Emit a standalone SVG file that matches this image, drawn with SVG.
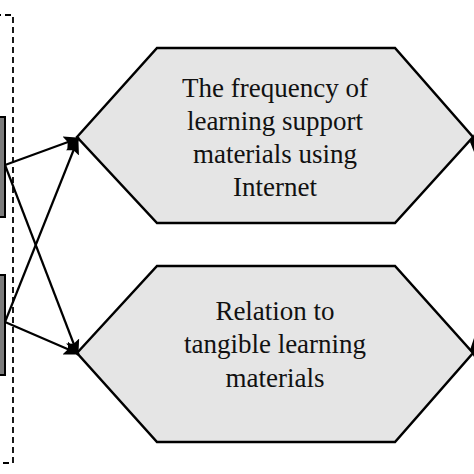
<svg xmlns="http://www.w3.org/2000/svg" width="474" height="474" viewBox="0 0 474 474">
<defs>
<style>
.hex{fill:#e5e5e5;stroke:#000;stroke-width:2.5;stroke-linejoin:miter}
.bar{fill:#7b7b7b;stroke:#000;stroke-width:2}
.lbl{font-family:"Liberation Serif","Times New Roman",serif;font-size:27px;fill:#111;text-anchor:middle}
.conn{stroke:#000;stroke-width:2.2;fill:none;marker-end:url(#ah)}
</style>
<marker id="ah" viewBox="0 0 16 14" refX="15" refY="7" markerWidth="16" markerHeight="14" markerUnits="userSpaceOnUse" orient="auto">
<path d="M0,0 L16,7 L0,14 L3,7 Z" fill="#000"/>
</marker>
</defs>
<rect width="474" height="474" fill="#fff"/>
<path d="M-5,15 H13 V463 H-5" fill="none" stroke="#000" stroke-width="1.8" stroke-dasharray="6,4"/>
<g id="bar1"><rect class="bar" x="-3" y="117" width="8" height="100"/></g>
<g id="bar2"><rect class="bar" x="-3" y="275" width="8" height="100"/></g>
<g id="node1">
<polygon class="hex" points="77,137 157,48 395,48 473,137 395,223 157,223"/>
<text class="lbl" x="275" y="97">The frequency of</text>
<text class="lbl" x="275" y="130">learning support</text>
<text class="lbl" x="275" y="163">materials using</text>
<text class="lbl" x="275" y="196">Internet</text>
</g>
<g id="node2">
<polygon class="hex" points="77,353 157,266 395,266 473,353 395,442 157,442"/>
<text class="lbl" x="275" y="320">Relation to</text>
<text class="lbl" x="275" y="353">tangible learning</text>
<text class="lbl" x="275" y="387">materials</text>
</g>
<g id="connectors">
<line class="conn" x1="5" y1="165" x2="79" y2="138"/>
<line class="conn" x1="5" y1="165" x2="78" y2="355"/>
<line class="conn" x1="5" y1="322" x2="78" y2="139"/>
<line class="conn" x1="5" y1="322" x2="79" y2="354"/>
<polygon points="470,142 474,134 474,152" fill="#000"/>
<polygon points="470,350 474,338 474,357" fill="#000"/>
</g>
</svg>
